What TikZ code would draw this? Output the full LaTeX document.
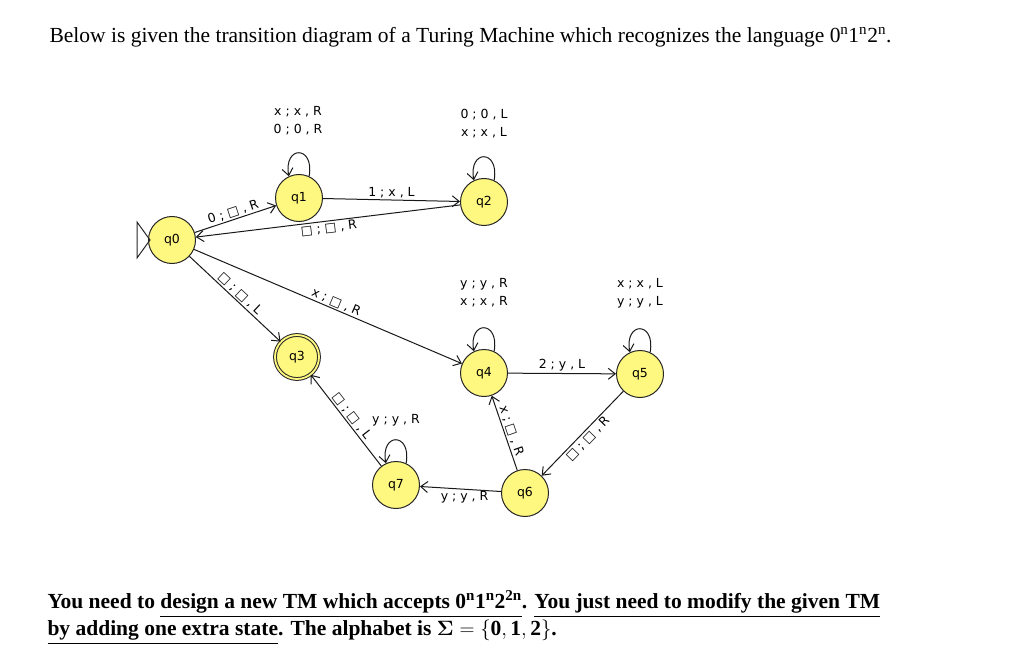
\documentclass[tikz,border=0pt]{standalone}
\usepackage{amsmath}
\usepackage{fontspec}
\setmainfont{Liberation Serif}
\newfontfamily\djs{DejaVu Sans}
\usetikzlibrary{arrows.meta}
\begin{document}
\begin{tikzpicture}[x=1pt,y=-1pt,
  st/.style={circle,draw=black!85,line width=1pt,fill=yellow!50,minimum size=47pt,inner sep=0pt,font=\djs\fontsize{12.5}{13}\selectfont},
  acc/.style={st,double=yellow!50,double distance=1.8pt,minimum size=44pt},
  e/.style={draw=black!90,line width=1pt,-{Straight Barb[length=7pt,width=11pt]}},
  lb/.style={font=\djs\fontsize{12.5}{13}\selectfont,inner sep=1.5pt},
  lp/.style={e,looseness=4}]
\useasboundingbox (0,0) rectangle (1018,658);
\fill[white] (0,0) rectangle (1018,658);
\node[anchor=west,font=\fontsize{21.5}{24}\selectfont] (t1) at (46,37) {Below is given the transition diagram of a Turing Machine which recognizes the language 0\textsuperscript{n}1\textsuperscript{n}2\textsuperscript{n}.};
\node[st] (q0) at (172,240) {q0};
\node[st] (q1) at (299,198) {q1};
\node[st] (q2) at (484,202) {q2};
\node[acc] (q3) at (297,357) {q3};
\node[st] (q4) at (484,373) {q4};
\node[st] (q5) at (640,374) {q5};
\node[st] (q6) at (525,493) {q6};
\node[st] (q7) at (396,485) {q7};
\draw[draw=black!85,line width=1pt] (137,222) -- (150,240) -- (137,258) -- cycle;
\draw[e] (q0) -- node[lb,sloped,above]{0 ; □ , R} (q1);
\draw[e] (q1) -- node[lb,above]{1 ; x , L} (q2);
\draw[e] (q2) -- node[lb,sloped,below]{□ ; □ , R} (q0);
\draw[e] (q0) -- node[lb,sloped,above,pos=0.52]{x ; □ , R} (q4);
\draw[e] (q0) -- node[lb,sloped,above]{□ ; □ , L} (q3);
\draw[e] (q7) -- node[lb,sloped,above]{□ ; □ , L} (q3);
\draw[e] (q4) -- node[lb,above]{2 ; y , L} (q5);
\draw[e] (q5) -- node[lb,sloped,below]{□ ; □ , R} (q6);
\draw[e] (q6) -- node[lb,sloped,above]{x ; □ , R} (q4);
\draw[e] (q6) -- node[lb,below,pos=0.45]{y ; y , R} (q7);
\draw[lp] (q1.65) to[out=80,in=100] (q1.115);
\draw[lp] (q2.65) to[out=80,in=100] (q2.115);
\draw[lp] (q4.65) to[out=80,in=100] (q4.115);
\draw[lp] (q5.65) to[out=80,in=100] (q5.115);
\draw[lp] (q7.65) to[out=80,in=100] (q7.115);
\node[lb] (l1) at (298,112) {x ; x , R};
\node[lb] (l2) at (298,130) {0 ; 0 , R};
\node[lb] (l3) at (484,115) {0 ; 0 , L};
\node[lb] (l4) at (484,133) {x ; x , L};
\node[lb] (l5) at (484,284) {y ; y , R};
\node[lb] (l6) at (484,302) {x ; x , R};
\node[lb] (l7) at (640,284) {x ; x , L};
\node[lb] (l8) at (640,302) {y ; y , L};
\node[lb] (l9) at (396,420) {y ; y , R};
\node[anchor=west,font=\bfseries\fontsize{21.5}{24}\selectfont] (t2) at (44,604) {You need to \underline{design a new TM which accepts 0\textsuperscript{n}1\textsuperscript{n}2\textsuperscript{2n}}. \underline{You just need to modify the given TM}};
\node[anchor=west,font=\bfseries\fontsize{21.5}{24}\selectfont] (t3) at (44,632) {\underline{by adding one extra state}. The alphabet is $\boldsymbol{\Sigma} = \{\mathbf{0,1,2}\}$.};
\end{tikzpicture}
\end{document}
